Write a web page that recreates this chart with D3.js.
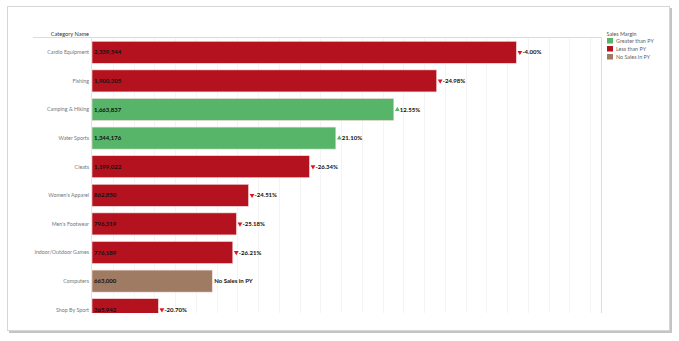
<!DOCTYPE html>
<html>
<head>
<meta charset="utf-8">
<script src="https://cdn.jsdelivr.net/npm/d3@7"></script>
<style>
  html, body { margin: 0; padding: 0; background: #ffffff; }
  svg { display: block; font-family: Lato, "Open Sans", Arial, sans-serif; }
</style>
</head>
<body>
<svg id="chart" width="679" height="341"></svg>
<script>
// ---- data ----
const categories = ["Cardio Equipment", "Fishing", "Camping & Hiking", "Water Sports", "Cleats",
  "Women's Apparel", "Men's Footwear", "Indoor/Outdoor Games", "Computers", "Shop By Sport"];
const sales = [2339544, 1900305, 1663837, 1344176, 1199022, 862850, 796319, 776189, 663000, 365942];
const salesLabels = ["2,339,544", "1,900,305", "1,663,837", "1,344,176", "1,199,022",
  "862,850", "796,319", "776,189", "663,000", "365,942"];
const margin = ["Less than PY", "Less than PY", "Greater than PY", "Greater than PY", "Less than PY",
  "Less than PY", "Less than PY", "Less than PY", "No Sales in PY", "Less than PY"];
const changeLabels = ["-4.00%", "-24.98%", "12.55%", "21.10%", "-26.34%",
  "-24.51%", "-25.18%", "-26.21%", "No Sales in PY", "-20.70%"];
const legendItems = ["Greater than PY", "Less than PY", "No Sales in PY"];
const legendColors = ["#57b56a", "#b5121f", "#a07b63"];
const gridStep = 114400;
const xMax = 2811500;

// ---- drawing ----
const svg = d3.select("#chart");
const color = d3.scaleOrdinal().domain(legendItems).range(legendColors);

// frame with shadow
svg.append("rect").attr("x", 9).attr("y", 8).attr("width", 663).attr("height", 325).attr("fill", "#c4c4c4");
svg.append("rect").attr("x", 7.5).attr("y", 6.5).attr("width", 662).attr("height", 324)
  .attr("fill", "#ffffff").attr("stroke", "#d6d6d6").attr("stroke-width", 1);

const pTop = 38, pBottom = 313, pLeft = 92, pRight = 602;
const x = d3.scaleLinear().domain([0, xMax]).range([pLeft, pRight]);
const y = d3.scaleBand().domain(categories).range([pTop, pTop + categories.length * 28.6])
  .paddingInner(0.23).paddingOuter(0.115);

const defs = svg.append("defs");
defs.append("clipPath").attr("id", "plotClip").append("rect")
  .attr("x", 0).attr("y", pTop).attr("width", 640).attr("height", pBottom - pTop);
defs.append("clipPath").attr("id", "legClip").append("rect")
  .attr("x", 600).attr("y", 20).attr("width", 68).attr("height", 60);

// gridlines
const gridVals = d3.range(gridStep, xMax, gridStep);
svg.append("g").selectAll("line").data(gridVals).join("line")
  .attr("x1", d => Math.round(x(d)) + 0.5).attr("x2", d => Math.round(x(d)) + 0.5)
  .attr("y1", pTop).attr("y2", pBottom)
  .attr("stroke", "#f4f4f4").attr("stroke-width", 1);

// borders
svg.append("line").attr("x1", 33).attr("x2", pRight).attr("y1", pTop - 0.5).attr("y2", pTop - 0.5)
  .attr("stroke", "#dcdcdc");
svg.append("line").attr("x1", pRight - 0.5).attr("x2", pRight - 0.5).attr("y1", pTop - 1).attr("y2", pBottom)
  .attr("stroke", "#dcdcdc");
svg.append("line").attr("x1", pLeft - 0.5).attr("x2", pLeft - 0.5).attr("y1", pTop).attr("y2", pBottom)
  .attr("stroke", "#e4e4e4");

// header
svg.append("text").attr("x", 89).attr("y", 36).attr("text-anchor", "end")
  .attr("font-size", 5.6).attr("fill", "#333").text("Category Name");

const plot = svg.append("g").attr("clip-path", "url(#plotClip)");
const rows = categories.map((c, i) => ({ c, v: sales[i], lab: salesLabels[i], m: margin[i], ch: changeLabels[i] }));

// category labels
plot.selectAll("text.cat").data(rows).join("text").attr("class", "cat")
  .attr("x", 89).attr("y", d => y(d.c) + y.bandwidth() / 2).attr("dy", "0.35em")
  .attr("text-anchor", "end").attr("font-size", 5.3).attr("fill", "#777").text(d => d.c);

// bars
plot.selectAll("rect.bar").data(rows).join("rect").attr("class", "bar")
  .attr("x", x(0)).attr("y", d => y(d.c))
  .attr("width", d => x(d.v) - x(0)).attr("height", y.bandwidth())
  .attr("fill", d => color(d.m)).attr("stroke", "#f3dede").attr("stroke-width", 0.6);

// value labels inside
plot.selectAll("text.val").data(rows).join("text").attr("class", "val")
  .attr("x", pLeft + 2).attr("y", d => y(d.c) + y.bandwidth() / 2).attr("dy", "0.35em")
  .attr("font-size", 6).attr("font-weight", "bold").attr("fill", "#111").text(d => d.lab);

// change markers
const tri = d3.symbol().type(d3.symbolTriangle).size(10);
plot.selectAll("path.tri").data(rows.filter(d => d.m !== "No Sales in PY")).join("path").attr("class", "tri")
  .attr("d", tri)
  .attr("transform", d => {
    const cx = x(d.v) + 3.5, cy = y(d.c) + y.bandwidth() / 2;
    return d.m === "Less than PY" ? `translate(${cx},${cy}) rotate(180)` : `translate(${cx},${cy})`;
  })
  .attr("fill", d => d.m === "Less than PY" ? "#e0141e" : "#57b56a");

plot.selectAll("text.chg").data(rows).join("text").attr("class", "chg")
  .attr("x", d => d.m === "No Sales in PY" ? x(d.v) + 2 : x(d.v) + 6)
  .attr("y", d => y(d.c) + y.bandwidth() / 2).attr("dy", "0.35em")
  .attr("font-size", 6).attr("font-weight", "bold").attr("fill", "#111").text(d => d.ch);

// legend
const leg = svg.append("g").attr("clip-path", "url(#legClip)");
leg.append("text").attr("x", 606.5).attr("y", 35.5).attr("font-size", 5.4).attr("fill", "#555").text("Sales Margin");
const li = leg.selectAll("g.li").data(legendItems).join("g").attr("class", "li")
  .attr("transform", (d, i) => `translate(607,${38 + i * 8})`);
li.append("rect").attr("width", 6).attr("height", 5.5).attr("fill", d => color(d));
li.append("text").attr("x", 9).attr("y", 2.75).attr("dy", "0.35em").attr("font-size", 5.4)
  .attr("fill", "#666").text(d => d);
</script>
</body>
</html>
